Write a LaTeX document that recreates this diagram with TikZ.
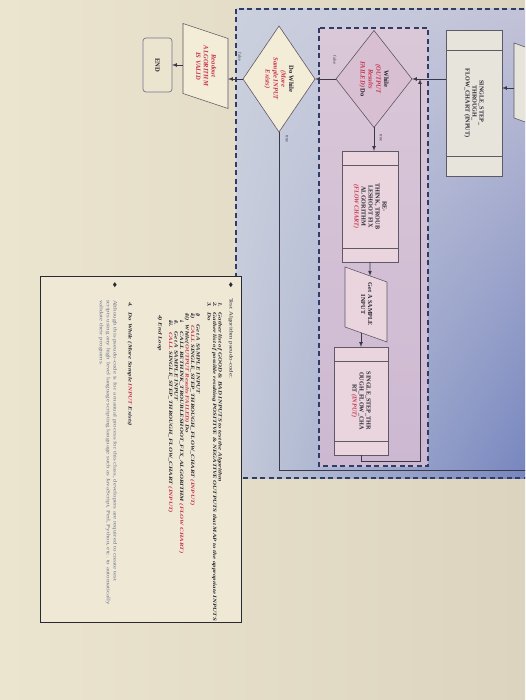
\documentclass[tikz,border=0pt]{standalone}
\usepackage{fontspec}
\setmainfont{Liberation Serif}
\newfontfamily\symfont{DejaVu Sans}
\usepackage{graphicx}
\definecolor{paper}{HTML}{EBE4CE}
\definecolor{paperdark}{HTML}{DCD4BE}
\definecolor{codepaper}{HTML}{EEE8D5}
\definecolor{grpA}{HTML}{CBD0DE}
\definecolor{grpB}{HTML}{C2C2D8}
\definecolor{grpC}{HTML}{C4CAD9}
\definecolor{grpD}{HTML}{7282BD}
\definecolor{inA}{HTML}{DAC8D8}
\definecolor{inB}{HTML}{CDB8D2}
\definecolor{dashblue}{HTML}{2F3D66}
\definecolor{edge}{HTML}{5F5866}
\definecolor{wire}{HTML}{3A3846}
\definecolor{ink}{HTML}{2A2833}
\definecolor{hotred}{HTML}{C8304C}
\definecolor{faint}{HTML}{6B7090}
\definecolor{cream}{HTML}{F3ECD7}
\definecolor{mauve}{HTML}{D8C0D2}
\definecolor{pink}{HTML}{EAD5DE}
\definecolor{pale}{HTML}{E7E4DC}
\definecolor{endedge}{HTML}{777590}
\usepackage{tikz}
\usetikzlibrary{arrows}
\usetikzlibrary{calc}
\usetikzlibrary{shadings}
\usetikzlibrary{shapes.geometric}
\newcommand*{\boxfont}{\fontsize{6.2}{7}\selectfont\bfseries}
\newcommand*{\bigboxfont}{\fontsize{6.6}{7.8}\selectfont\bfseries}
\newcommand*{\codefont}{\fontsize{6.9}{7.64}\selectfont}
\newcommand*{\vlabel}[1]{\rotatebox{-90}{\begin{tabular}{@{}c@{}}#1\end{tabular}}}
\newcommand*{\hot}[1]{\textcolor{hotred}{\textit{#1}}}
\newcommand*{\bi}[1]{\textbf{\textit{#1}}}
\tikzstyle{base}=[inner sep=0pt, outer sep=0pt]
\tikzset{
  group/.style={draw=dashblue, line width=1.3pt, dash pattern=on 5pt off 3.5pt},
  decision/.style={diamond, draw=edge, line width=0.6pt},
  process/.style={rectangle, draw=edge, line width=0.6pt, fill=pink, text=ink, font=\boxfont},
  stripe/.style={draw=edge, line width=0.6pt},
  iobox/.style={rectangle, text=ink, font=\boxfont, path picture={
    \fill[#1] (path picture bounding box.north west) -- ($(path picture bounding box.north east)+(0,15)$)
      -- (path picture bounding box.south east) -- ($(path picture bounding box.south west)+(0,-15)$) -- cycle;}},
  terminal/.style={rectangle, rounded corners=3pt, draw=endedge, line width=0.7pt, fill=paper, text=ink, font=\bigboxfont},
  flow/.style={draw=wire, line width=0.7pt},
  arr/.style={flow, -latex},
  tag/.style={text=wire, font=\fontsize{4.4}{4.4}\selectfont, rotate=-90},
}

\begin{document}
\begin{tikzpicture}[base, x=1pt, y=-1pt]
    \path [use as bounding box] (0,0) rectangle (525,700);
    \clip (0,0) rectangle (525,700);
    \shade [left color=paper, right color=paperdark] (0,0) rectangle (525,700);

    % groups
    \shade [upper left=grpA, upper right=grpB, lower left=grpC, lower right=grpD] (236,9) rectangle (540,478);
    \shade [top color=inA, bottom color=inB] (319,28) rectangle (428,466);
    \draw [group] (236,9) rectangle (540,478);
    \draw [group] (319,28) rectangle (428,466);

    % flow chart
    \node [iobox=pale, minimum width=42pt, minimum height=90pt] (p0) at (535,88) {};
    \node [process, fill=pale, minimum width=56pt, minimum height=146pt] (b1) at (474,103)
        {\vlabel{SINGLE\_STEP\_\\THROUGH\_\\FLOW\_CHART (INPUT)}};
    \node [decision, fill=mauve, minimum width=76pt, minimum height=97pt,
        label={[text=ink, font=\bigboxfont]center:\vlabel{While\\\hot{(OUTPUT}\\\hot{Results}\\\hot{FAILED)} Do}}] (wh) at (374,79) {};
    \node [process, minimum width=56pt, minimum height=111pt] (rt) at (370,206.5)
        {\vlabel{RE-\\THINK, TROUB\\LESHOOT FIX\\ALGORITHM\\\hot{(FLOW CHART)}}};
    \node [iobox=pink, minimum width=42pt, minimum height=75pt] (gs) at (366,304.5)
        {\vlabel{Get A SAMPLE\\INPUT}};
    \node [process, minimum width=54pt, minimum height=108pt] (b2) at (361,401)
        {\vlabel{SINGLE\_STEP\_THR\\OUGH\_FLOW\_CHA\\RT \hot{(INPUT)}}};
    \node [decision, fill=cream, minimum width=72pt, minimum height=106pt,
        label={[text=ink, font=\bigboxfont]center:\vlabel{Do While\\\hot{(More}\\\hot{Sample INPUT}\\\hot{Exists)}}}] (dw) at (279,79) {};
    \node [iobox=cream, font=\bigboxfont, minimum width=45pt, minimum height=85pt] (ro) at (205.5,66)
        {\vlabel{\hot{Readout}\\\hot{ALGORITHM}\\\hot{IS VALID}}};
    \node [terminal, minimum width=29pt, minimum height=54pt] (ed) at (157.5,65) {\rotatebox{-90}{END}};

    \foreach \n in {p0, gs, ro}
        \draw [stripe] (\n.north west) -- ($(\n.north east)+(0,15)$) -- (\n.south east)
            -- ($(\n.south west)+(0,-15)$) -- cycle;
    \foreach \n/\d in {b1/20, rt/14, b2/14} {
        \draw [stripe] ($(\n.north west)+(0,\d)$) -- ($(\n.north east)+(0,\d)$);
        \draw [stripe] ($(\n.south west)+(0,-\d)$) -- ($(\n.south east)+(0,-\d)$);
    }

    \coordinate (loopjoin) at (420,79);
    \coordinate (loopbot) at (420,461);
    \coordinate (truebot) at (540,470);
    \coordinate (gsin) at ($(gs.north west)!0.595!(gs.north east)+(0,8.9)$);
    \coordinate (gsout) at ($(gs.south west)!0.381!(gs.south east)+(0,-9.3)$);

    \draw [arr] (p0.west) -- (p0.west -| b1.east);
    \draw [arr] (b1.west |- wh.east) -- (wh.east);
    \draw [arr] (wh.south) -- (wh.south |- rt.north);
    \draw [arr] (rt.south) -- (gsin);
    \draw [arr] (gsout) -- (gsout |- b2.north);
    \draw [arr] (b2.south) |- (loopbot) -- (loopjoin);
    \draw [arr] (wh.west) -- (dw.east);
    \draw [flow] (dw.south) |- (truebot);
    \draw [arr] (dw.west) -- (dw.west -| ro.east);
    \draw [arr] (ro.west |- ed.east) -- (ed.east);

    \node [tag] (dwfalse) at (240,57) {false};
    \node [tag] (dwtrue) at (287,139) {true};
    \node [tag] (whfalse) at (335,60) {false};
    \node [tag] (whtrue) at (381,138) {true};

    % pseudo-code
    \node [draw=ink, line width=0.9pt, fill=codepaper, minimum width=201pt, minimum height=346pt] (codebox) at (140.5,449) {};
    \node [rotate=-90, yscale=0.72, anchor=north west, align=left, font=\codefont, text=ink] (code) at (233,282) {%
        \makebox[16pt][l]{\symfont ◆}Test Algorithm pseudo-code:\\[7.6pt]
        \hspace*{20pt}\makebox[11pt][l]{\bi{1.}}\bi{Gather list of GOOD \& BAD INPUTS to test the Algorithm}\\
        \hspace*{20pt}\makebox[11pt][l]{\bi{2.}}\bi{Gather list of possible resulting POSITIVE \& NEGATIVE OUTPUTS that MAP to the appropriate INPUTS}\\
        \hspace*{20pt}\makebox[11pt][l]{\bi{3.}}\bi{Do}\\[7.6pt]
        \hspace*{31pt}\makebox[12pt][l]{\bi{i)}}\bi{Get A SAMPLE INPUT}\\
        \hspace*{31pt}\makebox[12pt][l]{\bi{ii)}}\bi{\hot{CALL} SINGLE\_STEP\_THROUGH\_FLOW\_CHART \hot{(INPUT)}}\\
        \hspace*{31pt}\makebox[12pt][l]{\bi{iii)}}\bi{While(\hot{OUTPUT Results FAILED)} Do}\\
        \hspace*{38pt}\makebox[12pt][l]{\bi{i.}}\bi{CALL RETHINK\_TROUBLESHOOT\_FIX\_ALGORITHM \hot{(FLOW CHART)}}\\
        \hspace*{38pt}\makebox[12pt][l]{\bi{ii.}}\bi{Get A SAMPLE INPUT}\\
        \hspace*{38pt}\makebox[12pt][l]{\bi{iii.}}\bi{\hot{CALL} SINGLE\_STEP\_THROUGH\_FLOW\_CHART \hot{(INPUT)}}\\[7pt]
        \hspace*{33pt}\makebox[8pt][l]{\bi{4)}}\bi{End Loop}\\[34pt]
        \hspace*{20pt}\makebox[11pt][l]{\bi{4.}}\bi{Do While (More Sample \hot{INPUT} Exists)}\\[13pt]
        \makebox[18pt][l]{\symfont ◆}\textcolor{faint}{Although this pseudo-code is for a manual process for this class, developers are required to create test}\\[2pt]
        \hspace*{18pt}\textcolor{faint}{scripts using any high level language scripting language such as JavaScript, Perl, Python, etc. to automatically}\\[2pt]
        \hspace*{18pt}\textcolor{faint}{validate their programs.}};
\end{tikzpicture}
\end{document}
